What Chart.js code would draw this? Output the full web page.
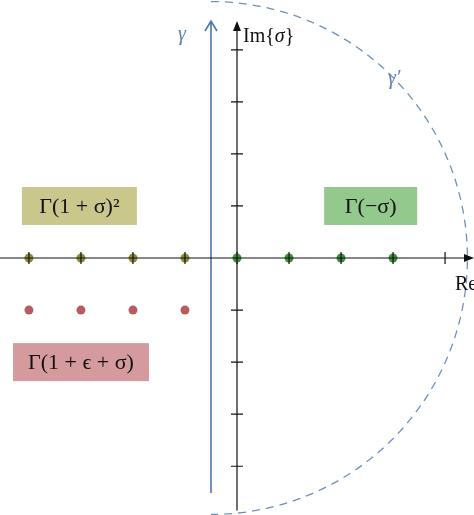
<!DOCTYPE html>
<html>
<head>
<meta charset="utf-8">
<script src="https://cdn.jsdelivr.net/npm/chart.js@4"></script>
<style>
  html, body { margin: 0; padding: 0; background: #fff; }
  #wrap { width: 474px; height: 515px; }
</style>
</head>
<body>
<div id="wrap"><canvas id="c"></canvas></div>
<script>
// poles on the real axis / shifted line
const greenX = [0, 1, 2, 3];
const oliveX = [-4, -3, -2, -1];
const redX = [-4, -3, -2, -1];
const redY = -1;
const xTicks = [-4, -3, -2, -1, 1, 2, 3, 4];
const yTicks = [-4, -3, -2, -1, 1, 2, 3, 4];
const gammaX = -0.5;
const arcRadius = 4.93;

const xMin = -4.47, xMax = 4.47, yMin = -4.85, yMax = 4.87;

const boxes = [
  { text: 'Γ(1 + σ)²', x: -3.03, y: 1.0, w: 115, h: 38, color: '#c9c78c' },
  { text: 'Γ(−σ)', x: 2.57, y: 1.0, w: 93, h: 38, color: '#93c98d' },
  { text: 'Γ(1 + ϵ + σ)', x: -3.0, y: -2.0, w: 136, h: 38, color: '#d49a9d' }
];

const serif = '"Liberation Serif", "DejaVu Serif", serif';

const overlay = {
  id: 'overlay',
  beforeDatasetsDraw(chart) {
    const { ctx, scales: { x, y } } = chart;
    ctx.save();
    // label boxes
    boxes.forEach(b => {
      const px = x.getPixelForValue(b.x), py = y.getPixelForValue(b.y);
      ctx.fillStyle = b.color;
      ctx.fillRect(px - b.w / 2, py - b.h / 2, b.w, b.h);
      ctx.fillStyle = '#111';
      ctx.font = '22px ' + serif;
      ctx.textAlign = 'center';
      ctx.textBaseline = 'middle';
      ctx.fillText(b.text, px, py + 1);
    });
    // dashed contour gamma'
    ctx.strokeStyle = '#7090bb';
    ctx.lineWidth = 1.3;
    ctx.setLineDash([8, 6]);
    const cx = x.getPixelForValue(gammaX), cy = y.getPixelForValue(0);
    const r = x.getPixelForValue(gammaX + arcRadius) - cx;
    ctx.beginPath();
    ctx.arc(cx, cy, r, -Math.PI / 2, Math.PI / 2);
    ctx.stroke();
    ctx.setLineDash([]);
    // axes
    const ox = x.getPixelForValue(0), oy = y.getPixelForValue(0);
    ctx.strokeStyle = '#111';
    ctx.lineWidth = 1.2;
    ctx.beginPath();
    ctx.moveTo(ox, y.getPixelForValue(yMin)); ctx.lineTo(ox, 28);
    yTicks.forEach(t => { const p = y.getPixelForValue(t); ctx.moveTo(ox - 6, p); ctx.lineTo(ox + 6, p); });
    ctx.stroke();
    ctx.fillStyle = '#111';
    ctx.beginPath();
    ctx.moveTo(474, oy); ctx.lineTo(464, oy - 4); ctx.lineTo(464, oy + 4); ctx.fill();
    ctx.beginPath();
    ctx.moveTo(ox, 21); ctx.lineTo(ox - 4, 31); ctx.lineTo(ox + 4, 31); ctx.fill();
    // gamma line
    const gx = x.getPixelForValue(gammaX);
    ctx.strokeStyle = '#4d76ab';
    ctx.lineWidth = 1.6;
    ctx.beginPath();
    ctx.moveTo(gx, 493); ctx.lineTo(gx, 22);
    ctx.moveTo(gx - 6, 31); ctx.lineTo(gx, 21); ctx.lineTo(gx + 6, 31);
    ctx.stroke();
    // labels
    ctx.font = 'italic 20px ' + serif;
    ctx.fillStyle = '#5a80b5';
    ctx.textBaseline = 'alphabetic';
    ctx.textAlign = 'left';
    ctx.fillText('γ', 178, 40);
    ctx.fillText('γ′', 388, 84);
    ctx.fillStyle = '#111';
    ctx.font = '20px ' + serif;
    ctx.fillText('Im{', 243, 42);
    const w = ctx.measureText('Im{').width;
    ctx.font = 'italic 20px ' + serif;
    ctx.fillText('σ', 243 + w, 42);
    const w2 = ctx.measureText('σ').width;
    ctx.font = '20px ' + serif;
    ctx.fillText('}', 243 + w + w2, 42);
    ctx.fillText('Re', 455, 290);
    ctx.restore();
  }
};

new Chart(document.getElementById('c'), {
  type: 'scatter',
  data: {
    datasets: [
      { data: greenX.map(v => ({ x: v, y: 0 })), backgroundColor: '#3f8f3f', pointRadius: 4.5, borderWidth: 0 },
      { data: oliveX.map(v => ({ x: v, y: 0 })), backgroundColor: '#8e8c3a', pointRadius: 4.5, borderWidth: 0 },
      { data: redX.map(v => ({ x: v, y: redY })), backgroundColor: '#b85a5e', pointRadius: 4.5, borderWidth: 0 }
    ]
  },
  options: {
    responsive: true,
    maintainAspectRatio: false,
    animation: false,
    layout: { padding: 0 },
    plugins: { legend: { display: false }, tooltip: { enabled: false } },
    scales: {
      x: { display: false, min: xMin, max: xMax },
      y: { display: false, min: yMin, max: yMax }
    }
  },
  plugins: [overlay,
    { id: 'tickOver', afterDatasetsDraw(chart) {
      const { ctx, scales: { x, y } } = chart;
      const oy = y.getPixelForValue(0);
      ctx.save();
      ctx.strokeStyle = '#111'; ctx.lineWidth = 1.2;
      ctx.beginPath();
      xTicks.concat([0]).forEach(t => { const p = x.getPixelForValue(t); ctx.moveTo(p, oy - 6); ctx.lineTo(p, oy + 6); });
      ctx.moveTo(0, oy); ctx.lineTo(466, oy);
      ctx.stroke();
      ctx.restore();
    } }]
});
</script>
</body>
</html>
